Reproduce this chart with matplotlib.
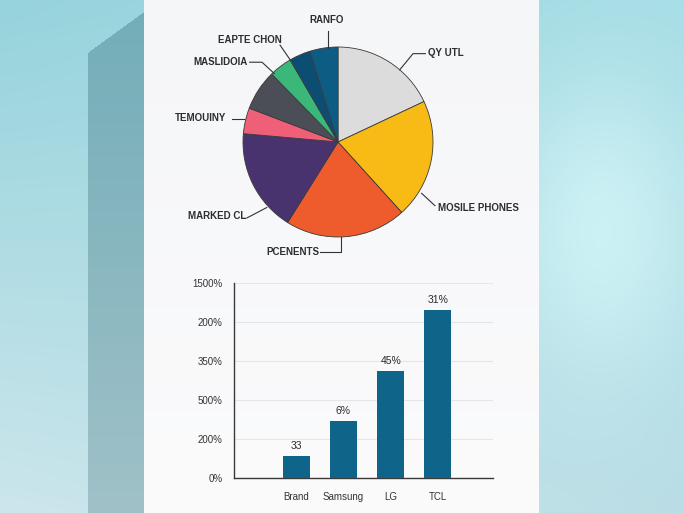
import numpy as np
import matplotlib
matplotlib.use("Agg")
from matplotlib import pyplot as plt

plt.rcParams['font.family'] = ['Liberation Sans Narrow', 'Liberation Sans', 'DejaVu Sans']

# pie data (clockwise from 12 o'clock)
pie_labels = ['QY UTL', 'MOSILE PHONES', 'PCENENTS', 'MARKED CL', 'TEMOUINY',
              'MASLIDOIA', 'EAPTE CHON', 'RANFO', '']
pie_values = [18, 20.3, 20.6, 17.5, 4.4, 6.9, 3.9, 3.6, 4.8]
pie_colors = ['#dcdcdc', '#f8bb16', '#ee5b2c', '#48336f', '#ef5f78',
              '#4b4d57', '#3cb77a', '#0c4d73', '#0d5c83']

# bar data
bar_cats = ['Brand', 'Samsung', 'LG', 'TCL']
bar_vals = [0.57, 1.47, 2.75, 4.32]
bar_text = ['33', '6%', '45%', '31%']
ytick_labels = ['0%', '200%', '500%', '350%', '200%', '1500%']

W, H = 684, 513
fig = plt.figure(figsize=(W / 100, H / 100), dpi=100)

# ---- background: teal gradient, shadow box, paper sheet ----
yy, xx = np.mgrid[0:H, 0:W] / np.array([H, W])[:, None, None]
t = yy[..., None]
left_top, left_bot = np.array([150, 211, 220]), np.array([204, 230, 236])
right_top, right_bot = np.array([166, 221, 229]), np.array([186, 221, 229])
left = left_top * (1 - t) + left_bot * t
right = right_top * (1 - t) + right_bot * t
s = xx[..., None]
img = left * (1 - s) + right * s
# bright glow on the right
glow = np.exp(-(((xx - 0.88) / 0.14) ** 2 + ((yy - 0.45) / 0.3) ** 2))[..., None]
img = img * (1 - 0.75 * glow) + np.array([214, 248, 250]) * 0.75 * glow
px = np.arange(W)[None, :]
py = np.arange(H)[:, None]
shadow = (px >= 88) & (px < 144) & (py > 52 - (px - 88) * 40 / 55)
shade = np.array([114, 173, 184]) * (1 - t) + np.array([160, 193, 200]) * t
img = np.where(shadow[..., None], shade, img)
paper = (px >= 144) & (px < 539)
pshade = np.array([245, 246, 248]) * (1 - t) + np.array([251, 251, 252]) * t
img = np.where(paper[..., None], pshade, img)

ax_bg = fig.add_axes([0, 0, 1, 1])
ax_bg.imshow(img.astype(np.uint8), extent=[0, W, H, 0], aspect='auto')
ax_bg.axis('off')

# ---- pie ----
cx, cy, r = 338, 142, 95
ax_pie = fig.add_axes([(cx - r) / W, 1 - (cy + r) / H, 2 * r / W, 2 * r / H])
ax_pie.pie(pie_values, colors=pie_colors, startangle=90, counterclock=False,
           radius=1, wedgeprops=dict(edgecolor='#3a3a3a', linewidth=0.6))
ax_pie.set_xlim(-1, 1)
ax_pie.set_ylim(-1, 1)
ax_pie.axis('off')

# label positions and leader lines (in pie radius units)
callouts = [
    ('QY UTL', (0.95, 0.94), 'left', [(0.92, 0.93), (0.79, 0.93), (0.65, 0.76)]),
    ('MOSILE PHONES', (1.05, -0.69), 'left', [(1.02, -0.67), (0.88, -0.54)]),
    ('PCENENTS', (-0.48, -1.16), 'center', [(-0.19, -1.16), (0.03, -1.16), (0.03, -1.0)]),
    ('MARKED CL', (-1.27, -0.78), 'center', [(-0.96, -0.80), (-0.75, -0.69)]),
    ('TEMOUINY', (-1.45, 0.25), 'center', [(-1.12, 0.24), (-0.99, 0.24)]),
    ('MASLIDOIA', (-1.24, 0.84), 'center', [(-0.93, 0.84), (-0.80, 0.84), (-0.67, 0.72)]),
    ('EAPTE CHON', (-0.93, 1.07), 'center', [(-0.61, 1.02), (-0.50, 0.86)]),
    ('RANFO', (-0.12, 1.28), 'center', [(-0.105, 1.17), (-0.105, 0.99)]),
]
for lab, (tx, ty), ha, pts in callouts:
    ax_pie.text(tx, ty, lab, ha=ha, va='center', fontsize=7, fontweight='bold',
                color='#2e2e2e', clip_on=False)
    xs, ys = zip(*pts)
    ax_pie.plot(xs, ys, color='#333333', lw=0.8, clip_on=False)

# ---- bar chart ----
ax_bar = fig.add_axes([234 / W, 1 - 478 / H, (493 - 234) / W, (478 - 283) / H])
ax_bar.patch.set_alpha(0)
x = np.arange(len(bar_cats))
bars = ax_bar.bar(x, bar_vals, width=0.565, color='#0f6589', zorder=3)
for b, lab in zip(bars, bar_text):
    ax_bar.text(b.get_x() + b.get_width() / 2, b.get_height() + 0.12, lab,
                ha='center', va='bottom', fontsize=7.5, color='#2b2b2b')
ax_bar.set_xlim(-1.32, 4.17)
ax_bar.set_ylim(0, 5)
ax_bar.set_yticks(range(6))
ax_bar.set_yticklabels(ytick_labels)
ax_bar.set_xticks(x)
ax_bar.set_xticklabels(bar_cats)
ax_bar.tick_params(length=0, labelsize=7, colors='#333333')
ax_bar.tick_params(axis='x', pad=10)
ax_bar.tick_params(axis='y', pad=8)
ax_bar.grid(axis='y', color='#e4e6e8', lw=0.8, zorder=0)
for side in ['top', 'right']:
    ax_bar.spines[side].set_visible(False)
for side in ['left', 'bottom']:
    ax_bar.spines[side].set_color('#3a3a3a')
    ax_bar.spines[side].set_linewidth(1.0)

plt.savefig('out.png', dpi=100)
